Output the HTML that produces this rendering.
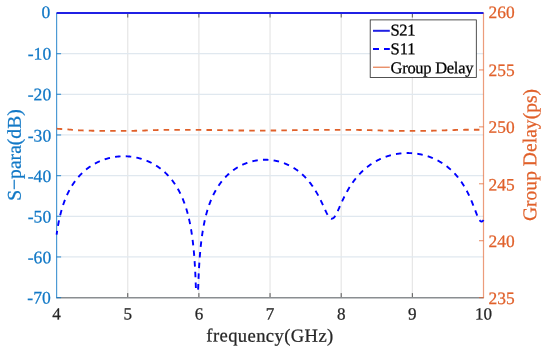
<!DOCTYPE html>
<html><head><meta charset="utf-8"><style>
html,body{margin:0;padding:0;background:#fff;}
body{width:550px;height:355px;overflow:hidden;}
svg{display:block;font-family:"Liberation Serif","Times New Roman",serif;text-rendering:geometricPrecision;}
text{stroke-width:0.25px;}
</style></head><body>
<svg width="550" height="355" viewBox="0 0 550 355">
<rect width="550" height="355" fill="#fff"/>
<g stroke="#E6E6E6" stroke-width="1.2"><line x1="127.75" y1="13.0" x2="127.75" y2="297.6"/><line x1="198.90" y1="13.0" x2="198.90" y2="297.6"/><line x1="270.05" y1="13.0" x2="270.05" y2="297.6"/><line x1="341.20" y1="13.0" x2="341.20" y2="297.6"/><line x1="412.35" y1="13.0" x2="412.35" y2="297.6"/></g>
<g stroke="#E0E8EF" stroke-width="1.2"><line x1="56.6" y1="53.66" x2="483.5" y2="53.66"/><line x1="56.6" y1="94.31" x2="483.5" y2="94.31"/><line x1="56.6" y1="134.97" x2="483.5" y2="134.97"/><line x1="56.6" y1="175.63" x2="483.5" y2="175.63"/><line x1="56.6" y1="216.29" x2="483.5" y2="216.29"/><line x1="56.6" y1="256.94" x2="483.5" y2="256.94"/></g>
<g stroke="#555" stroke-width="1"><line x1="127.75" y1="297.6" x2="127.75" y2="293.1"/><line x1="127.75" y1="13.0" x2="127.75" y2="17.5"/><line x1="198.90" y1="297.6" x2="198.90" y2="293.1"/><line x1="198.90" y1="13.0" x2="198.90" y2="17.5"/><line x1="270.05" y1="297.6" x2="270.05" y2="293.1"/><line x1="270.05" y1="13.0" x2="270.05" y2="17.5"/><line x1="341.20" y1="297.6" x2="341.20" y2="293.1"/><line x1="341.20" y1="13.0" x2="341.20" y2="17.5"/><line x1="412.35" y1="297.6" x2="412.35" y2="293.1"/><line x1="412.35" y1="13.0" x2="412.35" y2="17.5"/></g>
<line x1="56.6" y1="297.8" x2="483.5" y2="297.8" stroke="#8a8e91" stroke-width="1.6"/>
<g stroke="#1178C6" stroke-width="1.2" stroke-opacity="0.75"><line x1="56.6" y1="13.00" x2="61.1" y2="13.00"/><line x1="56.6" y1="53.66" x2="61.1" y2="53.66"/><line x1="56.6" y1="94.31" x2="61.1" y2="94.31"/><line x1="56.6" y1="134.97" x2="61.1" y2="134.97"/><line x1="56.6" y1="175.63" x2="61.1" y2="175.63"/><line x1="56.6" y1="216.29" x2="61.1" y2="216.29"/><line x1="56.6" y1="256.94" x2="61.1" y2="256.94"/><line x1="56.6" y1="297.60" x2="61.1" y2="297.60"/><line x1="56.6" y1="13.0" x2="56.6" y2="298.20000000000005"/></g>
<g stroke="#E0602A" stroke-width="1.2" stroke-opacity="0.62"><line x1="483.5" y1="297.60" x2="479.0" y2="297.60"/><line x1="483.5" y1="240.68" x2="479.0" y2="240.68"/><line x1="483.5" y1="183.76" x2="479.0" y2="183.76"/><line x1="483.5" y1="126.84" x2="479.0" y2="126.84"/><line x1="483.5" y1="69.92" x2="479.0" y2="69.92"/><line x1="483.5" y1="13.00" x2="479.0" y2="13.00"/><line x1="483.5" y1="13.0" x2="483.5" y2="298.20000000000005"/></g>
<path d="M56.60,128.70 L58.03,128.79 L59.46,128.89 L60.88,128.98 L62.31,129.07 L63.74,129.17 L65.17,129.27 L66.59,129.36 L68.02,129.46 L69.45,129.56 L70.88,129.66 L72.31,129.78 L73.73,129.89 L75.16,130.01 L76.59,130.12 L78.02,130.23 L79.44,130.32 L80.87,130.39 L82.30,130.45 L83.73,130.50 L85.16,130.55 L86.58,130.59 L88.01,130.62 L89.44,130.66 L90.87,130.70 L92.29,130.73 L93.72,130.77 L95.15,130.81 L96.58,130.85 L98.01,130.88 L99.43,130.90 L100.86,130.90 L102.29,130.91 L103.72,130.92 L105.14,130.93 L106.57,130.93 L108.00,130.94 L109.43,130.94 L110.85,130.94 L112.28,130.95 L113.71,130.95 L115.14,130.95 L116.57,130.95 L117.99,130.95 L119.42,130.94 L120.85,130.93 L122.28,130.92 L123.70,130.91 L125.13,130.90 L126.56,130.88 L127.99,130.86 L129.42,130.85 L130.84,130.83 L132.27,130.81 L133.70,130.79 L135.13,130.77 L136.55,130.74 L137.98,130.70 L139.41,130.67 L140.84,130.63 L142.27,130.58 L143.69,130.54 L145.12,130.50 L146.55,130.44 L147.98,130.38 L149.40,130.31 L150.83,130.24 L152.26,130.17 L153.69,130.11 L155.12,130.07 L156.54,130.04 L157.97,130.02 L159.40,130.01 L160.83,129.99 L162.25,129.98 L163.68,129.97 L165.11,129.96 L166.54,129.95 L167.97,129.94 L169.39,129.93 L170.82,129.92 L172.25,129.91 L173.68,129.90 L175.10,129.89 L176.53,129.88 L177.96,129.87 L179.39,129.86 L180.82,129.86 L182.24,129.85 L183.67,129.85 L185.10,129.85 L186.53,129.85 L187.95,129.85 L189.38,129.86 L190.81,129.86 L192.24,129.86 L193.66,129.87 L195.09,129.88 L196.52,129.88 L197.95,129.89 L199.38,129.90 L200.80,129.91 L202.23,129.92 L203.66,129.94 L205.09,129.96 L206.51,129.98 L207.94,129.99 L209.37,130.00 L210.80,130.01 L212.23,130.02 L213.65,130.02 L215.08,130.03 L216.51,130.03 L217.94,130.04 L219.36,130.05 L220.79,130.06 L222.22,130.09 L223.65,130.12 L225.08,130.17 L226.50,130.22 L227.93,130.27 L229.36,130.31 L230.79,130.35 L232.21,130.37 L233.64,130.40 L235.07,130.43 L236.50,130.45 L237.93,130.47 L239.35,130.49 L240.78,130.50 L242.21,130.51 L243.64,130.51 L245.06,130.52 L246.49,130.52 L247.92,130.53 L249.35,130.53 L250.78,130.53 L252.20,130.54 L253.63,130.54 L255.06,130.54 L256.49,130.55 L257.91,130.55 L259.34,130.55 L260.77,130.55 L262.20,130.55 L263.63,130.55 L265.05,130.55 L266.48,130.54 L267.91,130.53 L269.34,130.52 L270.76,130.52 L272.19,130.51 L273.62,130.50 L275.05,130.49 L276.47,130.48 L277.90,130.46 L279.33,130.45 L280.76,130.44 L282.19,130.42 L283.61,130.40 L285.04,130.39 L286.47,130.36 L287.90,130.34 L289.32,130.31 L290.75,130.28 L292.18,130.25 L293.61,130.22 L295.04,130.20 L296.46,130.18 L297.89,130.16 L299.32,130.14 L300.75,130.12 L302.17,130.10 L303.60,130.08 L305.03,130.06 L306.46,130.04 L307.89,130.03 L309.31,130.01 L310.74,130.00 L312.17,129.99 L313.60,129.97 L315.02,129.96 L316.45,129.95 L317.88,129.93 L319.31,129.92 L320.74,129.90 L322.16,129.89 L323.59,129.88 L325.02,129.86 L326.45,129.85 L327.87,129.84 L329.30,129.84 L330.73,129.83 L332.16,129.82 L333.59,129.81 L335.01,129.81 L336.44,129.80 L337.87,129.80 L339.30,129.80 L340.72,129.81 L342.15,129.82 L343.58,129.83 L345.01,129.85 L346.44,129.86 L347.86,129.88 L349.29,129.89 L350.72,129.91 L352.15,129.92 L353.57,129.93 L355.00,129.94 L356.43,129.95 L357.86,129.96 L359.28,129.98 L360.71,130.00 L362.14,130.02 L363.57,130.04 L365.00,130.08 L366.42,130.11 L367.85,130.15 L369.28,130.18 L370.71,130.22 L372.13,130.26 L373.56,130.29 L374.99,130.33 L376.42,130.38 L377.85,130.42 L379.27,130.46 L380.70,130.49 L382.13,130.53 L383.56,130.56 L384.98,130.60 L386.41,130.63 L387.84,130.67 L389.27,130.70 L390.70,130.73 L392.12,130.75 L393.55,130.78 L394.98,130.80 L396.41,130.82 L397.83,130.84 L399.26,130.86 L400.69,130.88 L402.12,130.89 L403.55,130.90 L404.97,130.91 L406.40,130.92 L407.83,130.93 L409.26,130.94 L410.68,130.95 L412.11,130.95 L413.54,130.95 L414.97,130.95 L416.40,130.94 L417.82,130.94 L419.25,130.93 L420.68,130.92 L422.11,130.91 L423.53,130.90 L424.96,130.89 L426.39,130.87 L427.82,130.85 L429.25,130.82 L430.67,130.78 L432.10,130.75 L433.53,130.71 L434.96,130.67 L436.38,130.63 L437.81,130.58 L439.24,130.52 L440.67,130.46 L442.09,130.41 L443.52,130.35 L444.95,130.30 L446.38,130.25 L447.81,130.21 L449.23,130.16 L450.66,130.12 L452.09,130.08 L453.52,130.04 L454.94,130.00 L456.37,129.96 L457.80,129.92 L459.23,129.88 L460.66,129.85 L462.08,129.81 L463.51,129.78 L464.94,129.76 L466.37,129.75 L467.79,129.75 L469.22,129.75 L470.65,129.75 L472.08,129.75 L473.51,129.75 L474.93,129.75 L476.36,129.75 L477.79,129.75 L479.22,129.76 L480.64,129.77 L482.07,129.78 L483.50,129.80" fill="none" stroke="#E0602A" stroke-width="1.8" stroke-dasharray="5.5 5.2" stroke-dashoffset="-0.15"/>
<path d="M56.60,234.54 L56.88,232.55 L57.17,230.66 L57.45,228.87 L57.74,227.17 L58.02,225.55 L58.31,224.01 L58.59,222.53 L58.88,221.11 L59.16,219.75 L59.45,218.44 L59.73,217.18 L60.02,215.97 L60.30,214.79 L60.59,213.66 L60.87,212.57 L61.16,211.51 L61.44,210.48 L61.73,209.48 L62.01,208.51 L62.30,207.57 L62.58,206.66 L62.87,205.77 L63.15,204.91 L63.43,204.06 L63.72,203.24 L64.00,202.44 L64.29,201.66 L64.57,200.89 L64.86,200.15 L65.14,199.42 L65.43,198.71 L65.71,198.01 L66.00,197.33 L66.28,196.66 L66.57,196.01 L66.85,195.37 L67.14,194.75 L67.42,194.13 L67.71,193.53 L67.99,192.94 L68.28,192.36 L68.56,191.79 L68.85,191.24 L69.13,190.69 L69.42,190.15 L69.70,189.62 L69.99,189.11 L70.27,188.60 L70.55,188.10 L70.84,187.60 L71.12,187.12 L71.41,186.64 L71.69,186.18 L71.98,185.72 L72.26,185.26 L72.55,184.82 L72.83,184.38 L73.12,183.95 L73.40,183.52 L73.69,183.10 L73.97,182.69 L74.26,182.28 L74.54,181.88 L74.83,181.49 L75.11,181.10 L75.40,180.72 L75.68,180.34 L75.97,179.97 L76.25,179.60 L76.54,179.24 L76.82,178.89 L77.10,178.53 L77.39,178.19 L77.67,177.85 L77.96,177.51 L78.24,177.18 L78.53,176.85 L78.81,176.53 L79.10,176.21 L79.38,175.89 L79.67,175.58 L79.95,175.28 L80.24,174.97 L80.52,174.68 L80.81,174.38 L81.09,174.09 L81.38,173.80 L81.66,173.52 L81.95,173.24 L82.23,172.96 L82.52,172.69 L82.80,172.42 L83.09,172.16 L83.37,171.90 L83.66,171.64 L83.94,171.38 L84.22,171.13 L84.51,170.88 L84.79,170.63 L85.08,170.39 L85.36,170.15 L85.65,169.91 L85.93,169.68 L86.22,169.45 L86.50,169.22 L86.79,168.99 L87.07,168.77 L87.36,168.55 L87.64,168.33 L87.93,168.12 L88.21,167.91 L88.50,167.70 L88.78,167.49 L89.07,167.29 L89.35,167.09 L89.64,166.89 L89.92,166.69 L90.21,166.50 L90.49,166.30 L90.77,166.12 L91.06,165.93 L91.34,165.74 L91.63,165.56 L91.91,165.38 L92.20,165.20 L92.48,165.03 L92.77,164.86 L93.05,164.68 L93.34,164.51 L93.62,164.35 L93.91,164.18 L94.19,164.02 L94.48,163.86 L94.76,163.70 L95.05,163.55 L95.33,163.39 L95.62,163.24 L95.90,163.09 L96.19,162.94 L96.47,162.79 L96.76,162.65 L97.04,162.51 L97.32,162.37 L97.61,162.23 L97.89,162.09 L98.18,161.96 L98.46,161.82 L98.75,161.69 L99.03,161.56 L99.32,161.44 L99.60,161.31 L99.89,161.19 L100.17,161.06 L100.46,160.94 L100.74,160.82 L101.03,160.71 L101.31,160.59 L101.60,160.48 L101.88,160.37 L102.17,160.26 L102.45,160.15 L102.74,160.04 L103.02,159.94 L103.31,159.83 L103.59,159.73 L103.88,159.63 L104.16,159.53 L104.44,159.43 L104.73,159.34 L105.01,159.25 L105.30,159.15 L105.58,159.06 L105.87,158.97 L106.15,158.89 L106.44,158.80 L106.72,158.72 L107.01,158.63 L107.29,158.55 L107.58,158.47 L107.86,158.39 L108.15,158.32 L108.43,158.24 L108.72,158.17 L109.00,158.09 L109.29,158.02 L109.57,157.95 L109.86,157.89 L110.14,157.82 L110.43,157.75 L110.71,157.69 L110.99,157.63 L111.28,157.57 L111.56,157.51 L111.85,157.45 L112.13,157.39 L112.42,157.34 L112.70,157.29 L112.99,157.23 L113.27,157.18 L113.56,157.13 L113.84,157.08 L114.13,157.04 L114.41,156.99 L114.70,156.95 L114.98,156.91 L115.27,156.87 L115.55,156.83 L115.84,156.79 L116.12,156.75 L116.41,156.71 L116.69,156.68 L116.98,156.65 L117.26,156.62 L117.55,156.59 L117.83,156.56 L118.11,156.53 L118.40,156.50 L118.68,156.48 L118.97,156.46 L119.25,156.43 L119.54,156.41 L119.82,156.39 L120.11,156.38 L120.39,156.36 L120.68,156.34 L120.96,156.33 L121.25,156.32 L121.53,156.31 L121.82,156.30 L122.10,156.29 L122.39,156.28 L122.67,156.27 L122.96,156.27 L123.24,156.27 L123.53,156.26 L123.81,156.26 L124.10,156.26 L124.38,156.27 L124.66,156.27 L124.95,156.27 L125.23,156.28 L125.52,156.29 L125.80,156.30 L126.09,156.31 L126.37,156.32 L126.66,156.33 L126.94,156.34 L127.23,156.36 L127.51,156.38 L127.80,156.39 L128.08,156.41 L128.37,156.43 L128.65,156.45 L128.94,156.48 L129.22,156.50 L129.51,156.53 L129.79,156.56 L130.08,156.59 L130.36,156.62 L130.65,156.65 L130.93,156.68 L131.21,156.71 L131.50,156.75 L131.78,156.79 L132.07,156.82 L132.35,156.86 L132.64,156.90 L132.92,156.95 L133.21,156.99 L133.49,157.04 L133.78,157.08 L134.06,157.13 L134.35,157.18 L134.63,157.23 L134.92,157.28 L135.20,157.34 L135.49,157.39 L135.77,157.45 L136.06,157.51 L136.34,157.56 L136.63,157.62 L136.91,157.69 L137.20,157.75 L137.48,157.82 L137.77,157.88 L138.05,157.95 L138.33,158.02 L138.62,158.09 L138.90,158.16 L139.19,158.24 L139.47,158.31 L139.76,158.39 L140.04,158.47 L140.33,158.55 L140.61,158.63 L140.90,158.71 L141.18,158.79 L141.47,158.88 L141.75,158.97 L142.04,159.06 L142.32,159.15 L142.61,159.24 L142.89,159.33 L143.18,159.43 L143.46,159.52 L143.75,159.62 L144.03,159.72 L144.32,159.82 L144.60,159.93 L144.88,160.03 L145.17,160.14 L145.45,160.25 L145.74,160.36 L146.02,160.47 L146.31,160.58 L146.59,160.70 L146.88,160.81 L147.16,160.93 L147.45,161.05 L147.73,161.17 L148.02,161.30 L148.30,161.42 L148.59,161.55 L148.87,161.68 L149.16,161.81 L149.44,161.94 L149.73,162.07 L150.01,162.21 L150.30,162.35 L150.58,162.49 L150.87,162.63 L151.15,162.77 L151.44,162.92 L151.72,163.07 L152.00,163.21 L152.29,163.37 L152.57,163.52 L152.86,163.67 L153.14,163.83 L153.43,163.99 L153.71,164.15 L154.00,164.32 L154.28,164.48 L154.57,164.65 L154.85,164.82 L155.14,164.99 L155.42,165.17 L155.71,165.34 L155.99,165.52 L156.28,165.70 L156.56,165.88 L156.85,166.07 L157.13,166.26 L157.42,166.45 L157.70,166.64 L157.99,166.83 L158.27,167.03 L158.55,167.23 L158.84,167.43 L159.12,167.64 L159.41,167.84 L159.69,168.05 L159.98,168.27 L160.26,168.48 L160.55,168.70 L160.83,168.92 L161.12,169.14 L161.40,169.37 L161.69,169.59 L161.97,169.83 L162.26,170.06 L162.54,170.30 L162.83,170.54 L163.11,170.78 L163.40,171.02 L163.68,171.27 L163.97,171.52 L164.25,171.78 L164.54,172.04 L164.82,172.30 L165.10,172.56 L165.39,172.83 L165.67,173.10 L165.96,173.38 L166.24,173.66 L166.53,173.94 L166.81,174.22 L167.10,174.51 L167.38,174.80 L167.67,175.10 L167.95,175.40 L168.24,175.70 L168.52,176.01 L168.81,176.32 L169.09,176.64 L169.38,176.96 L169.66,177.29 L169.95,177.61 L170.23,177.95 L170.52,178.28 L170.80,178.63 L171.09,178.97 L171.37,179.33 L171.66,179.68 L171.94,180.04 L172.22,180.41 L172.51,180.78 L172.79,181.16 L173.08,181.54 L173.36,181.93 L173.65,182.32 L173.93,182.72 L174.22,183.13 L174.50,183.54 L174.79,183.95 L175.07,184.38 L175.36,184.81 L175.64,185.24 L175.93,185.69 L176.21,186.14 L176.50,186.59 L176.78,187.06 L177.07,187.53 L177.35,188.01 L177.64,188.50 L177.92,188.99 L178.21,189.50 L178.49,190.01 L178.77,190.53 L179.06,191.06 L179.34,191.60 L179.63,192.15 L179.91,192.71 L180.20,193.28 L180.48,193.86 L180.77,194.45 L181.05,195.05 L181.34,195.66 L181.62,196.29 L181.91,196.93 L182.19,197.58 L182.48,198.25 L182.76,198.93 L183.05,199.62 L183.33,200.33 L183.62,201.05 L183.90,201.79 L184.19,202.55 L184.47,203.33 L184.76,204.12 L185.04,204.94 L185.33,205.77 L185.61,206.63 L185.89,207.51 L186.18,208.41 L186.46,209.34 L186.75,210.29 L187.03,211.27 L187.32,212.28 L187.60,213.32 L187.89,214.39 L188.17,215.50 L188.46,216.65 L188.74,217.83 L189.03,219.06 L189.31,220.33 L189.60,221.65 L189.88,223.02 L190.17,224.45 L190.45,225.95 L190.74,227.50 L191.02,229.13 L191.31,230.85 L191.59,232.65 L191.88,234.54 L192.16,236.55 L192.44,238.67 L192.73,240.94 L193.01,243.36 L193.30,245.96 L193.58,248.76 L193.87,251.81 L194.15,255.15 L194.44,258.84 L194.72,262.96 L195.01,267.62 L195.29,272.99 L195.58,279.33 L195.86,287.07 L196.15,290.49 L196.43,290.49 L196.72,290.49 L197.00,290.49 L197.29,290.49 L197.57,290.49 L197.86,290.49 L198.14,288.62 L198.43,280.58 L198.71,274.04 L198.99,268.53 L199.28,263.76 L199.56,259.57 L199.85,255.82 L200.13,252.43 L200.42,249.35 L200.70,246.51 L200.99,243.89 L201.27,241.45 L201.56,239.17 L201.84,237.03 L202.13,235.01 L202.41,233.10 L202.70,231.30 L202.98,229.58 L203.27,227.95 L203.55,226.39 L203.84,224.90 L204.12,223.46 L204.41,222.09 L204.69,220.77 L204.98,219.50 L205.26,218.28 L205.55,217.10 L205.83,215.95 L206.11,214.85 L206.40,213.78 L206.68,212.74 L206.97,211.74 L207.25,210.76 L207.54,209.82 L207.82,208.89 L208.11,208.00 L208.39,207.13 L208.68,206.28 L208.96,205.45 L209.25,204.64 L209.53,203.85 L209.82,203.08 L210.10,202.33 L210.39,201.60 L210.67,200.88 L210.96,200.18 L211.24,199.50 L211.53,198.82 L211.81,198.17 L212.10,197.52 L212.38,196.89 L212.66,196.28 L212.95,195.67 L213.23,195.08 L213.52,194.49 L213.80,193.92 L214.09,193.36 L214.37,192.81 L214.66,192.27 L214.94,191.74 L215.23,191.22 L215.51,190.71 L215.80,190.20 L216.08,189.71 L216.37,189.22 L216.65,188.75 L216.94,188.27 L217.22,187.81 L217.51,187.36 L217.79,186.91 L218.08,186.47 L218.36,186.04 L218.65,185.61 L218.93,185.19 L219.22,184.78 L219.50,184.37 L219.78,183.97 L220.07,183.57 L220.35,183.19 L220.64,182.80 L220.92,182.42 L221.21,182.05 L221.49,181.69 L221.78,181.33 L222.06,180.97 L222.35,180.62 L222.63,180.27 L222.92,179.93 L223.20,179.59 L223.49,179.26 L223.77,178.94 L224.06,178.61 L224.34,178.30 L224.63,177.98 L224.91,177.67 L225.20,177.37 L225.48,177.07 L225.77,176.77 L226.05,176.48 L226.33,176.19 L226.62,175.90 L226.90,175.62 L227.19,175.34 L227.47,175.07 L227.76,174.80 L228.04,174.53 L228.33,174.27 L228.61,174.01 L228.90,173.76 L229.18,173.50 L229.47,173.25 L229.75,173.01 L230.04,172.76 L230.32,172.52 L230.61,172.29 L230.89,172.05 L231.18,171.82 L231.46,171.60 L231.75,171.37 L232.03,171.15 L232.32,170.93 L232.60,170.71 L232.88,170.50 L233.17,170.29 L233.45,170.08 L233.74,169.88 L234.02,169.68 L234.31,169.48 L234.59,169.28 L234.88,169.09 L235.16,168.89 L235.45,168.71 L235.73,168.52 L236.02,168.34 L236.30,168.15 L236.59,167.97 L236.87,167.80 L237.16,167.62 L237.44,167.45 L237.73,167.28 L238.01,167.11 L238.30,166.95 L238.58,166.79 L238.87,166.63 L239.15,166.47 L239.44,166.31 L239.72,166.16 L240.00,166.01 L240.29,165.86 L240.57,165.71 L240.86,165.57 L241.14,165.42 L241.43,165.28 L241.71,165.14 L242.00,165.01 L242.28,164.87 L242.57,164.74 L242.85,164.61 L243.14,164.48 L243.42,164.35 L243.71,164.23 L243.99,164.10 L244.28,163.98 L244.56,163.86 L244.85,163.75 L245.13,163.63 L245.42,163.52 L245.70,163.41 L245.99,163.30 L246.27,163.19 L246.55,163.08 L246.84,162.98 L247.12,162.88 L247.41,162.78 L247.69,162.68 L247.98,162.58 L248.26,162.49 L248.55,162.39 L248.83,162.30 L249.12,162.21 L249.40,162.12 L249.69,162.04 L249.97,161.95 L250.26,161.87 L250.54,161.79 L250.83,161.71 L251.11,161.63 L251.40,161.55 L251.68,161.48 L251.97,161.41 L252.25,161.33 L252.54,161.26 L252.82,161.20 L253.11,161.13 L253.39,161.07 L253.67,161.00 L253.96,160.94 L254.24,160.88 L254.53,160.82 L254.81,160.77 L255.10,160.71 L255.38,160.66 L255.67,160.61 L255.95,160.56 L256.24,160.51 L256.52,160.46 L256.81,160.41 L257.09,160.37 L257.38,160.33 L257.66,160.29 L257.95,160.25 L258.23,160.21 L258.52,160.17 L258.80,160.14 L259.09,160.11 L259.37,160.07 L259.66,160.04 L259.94,160.02 L260.22,159.99 L260.51,159.96 L260.79,159.94 L261.08,159.92 L261.36,159.90 L261.65,159.88 L261.93,159.86 L262.22,159.84 L262.50,159.83 L262.79,159.81 L263.07,159.80 L263.36,159.79 L263.64,159.78 L263.93,159.78 L264.21,159.77 L264.50,159.77 L264.78,159.76 L265.07,159.76 L265.35,159.76 L265.64,159.76 L265.92,159.77 L266.21,159.77 L266.49,159.78 L266.77,159.79 L267.06,159.80 L267.34,159.81 L267.63,159.82 L267.91,159.83 L268.20,159.85 L268.48,159.86 L268.77,159.88 L269.05,159.90 L269.34,159.92 L269.62,159.95 L269.91,159.97 L270.19,160.00 L270.48,160.03 L270.76,160.05 L271.05,160.09 L271.33,160.12 L271.62,160.15 L271.90,160.19 L272.19,160.22 L272.47,160.26 L272.76,160.30 L273.04,160.34 L273.33,160.39 L273.61,160.43 L273.89,160.48 L274.18,160.52 L274.46,160.57 L274.75,160.62 L275.03,160.68 L275.32,160.73 L275.60,160.79 L275.89,160.84 L276.17,160.90 L276.46,160.96 L276.74,161.02 L277.03,161.09 L277.31,161.15 L277.60,161.22 L277.88,161.29 L278.17,161.36 L278.45,161.43 L278.74,161.50 L279.02,161.58 L279.31,161.65 L279.59,161.73 L279.88,161.81 L280.16,161.89 L280.44,161.98 L280.73,162.06 L281.01,162.15 L281.30,162.24 L281.58,162.33 L281.87,162.42 L282.15,162.51 L282.44,162.61 L282.72,162.71 L283.01,162.81 L283.29,162.91 L283.58,163.01 L283.86,163.11 L284.15,163.22 L284.43,163.33 L284.72,163.44 L285.00,163.55 L285.29,163.66 L285.57,163.78 L285.86,163.90 L286.14,164.02 L286.43,164.14 L286.71,164.26 L286.99,164.38 L287.28,164.51 L287.56,164.64 L287.85,164.77 L288.13,164.90 L288.42,165.04 L288.70,165.18 L288.99,165.31 L289.27,165.46 L289.56,165.60 L289.84,165.74 L290.13,165.89 L290.41,166.04 L290.70,166.19 L290.98,166.34 L291.27,166.50 L291.55,166.66 L291.84,166.82 L292.12,166.98 L292.41,167.14 L292.69,167.31 L292.98,167.48 L293.26,167.65 L293.55,167.82 L293.83,168.00 L294.11,168.18 L294.40,168.36 L294.68,168.54 L294.97,168.73 L295.25,168.91 L295.54,169.10 L295.82,169.30 L296.11,169.49 L296.39,169.69 L296.68,169.89 L296.96,170.09 L297.25,170.30 L297.53,170.51 L297.82,170.72 L298.10,170.93 L298.39,171.15 L298.67,171.37 L298.96,171.59 L299.24,171.81 L299.53,172.04 L299.81,172.27 L300.10,172.50 L300.38,172.74 L300.66,172.98 L300.95,173.22 L301.23,173.47 L301.52,173.72 L301.80,173.97 L302.09,174.22 L302.37,174.48 L302.66,174.74 L302.94,175.01 L303.23,175.27 L303.51,175.54 L303.80,175.82 L304.08,176.10 L304.37,176.38 L304.65,176.66 L304.94,176.95 L305.22,177.25 L305.51,177.54 L305.79,177.84 L306.08,178.15 L306.36,178.45 L306.65,178.76 L306.93,179.08 L307.22,179.40 L307.50,179.72 L307.78,180.05 L308.07,180.38 L308.35,180.72 L308.64,181.06 L308.92,181.40 L309.21,181.75 L309.49,182.11 L309.78,182.46 L310.06,182.83 L310.35,183.20 L310.63,183.57 L310.92,183.95 L311.20,184.33 L311.49,184.71 L311.77,185.11 L312.06,185.50 L312.34,185.91 L312.63,186.32 L312.91,186.73 L313.20,187.15 L313.48,187.57 L313.77,188.00 L314.05,188.44 L314.33,188.88 L314.62,189.32 L314.90,189.78 L315.19,190.24 L315.47,190.70 L315.76,191.17 L316.04,191.65 L316.33,192.13 L316.61,192.62 L316.90,193.12 L317.18,193.62 L317.47,194.12 L317.75,194.64 L318.04,195.16 L318.32,195.69 L318.61,196.22 L318.89,196.76 L319.18,197.31 L319.46,197.86 L319.75,198.42 L320.03,198.98 L320.32,199.55 L320.60,200.13 L320.88,200.71 L321.17,201.30 L321.45,201.90 L321.74,202.49 L322.02,203.10 L322.31,203.70 L322.59,204.32 L322.88,204.93 L323.16,205.55 L323.45,206.17 L323.73,206.79 L324.02,207.41 L324.30,208.03 L324.59,208.65 L324.87,209.27 L325.16,209.89 L325.44,210.50 L325.73,211.10 L326.01,211.70 L326.30,212.28 L326.58,212.86 L326.87,213.42 L327.15,213.97 L327.44,214.50 L327.72,215.01 L328.00,215.49 L328.29,215.96 L328.57,216.39 L328.86,216.80 L329.14,217.17 L329.43,217.51 L329.71,217.81 L330.00,218.07 L330.28,218.29 L330.57,218.47 L330.85,218.60 L331.14,218.69 L331.42,218.73 L331.71,218.73 L331.99,218.67 L332.28,218.58 L332.56,218.46 L332.85,218.35 L333.13,218.20 L333.42,218.00 L333.70,217.76 L333.99,217.48 L334.27,217.16 L334.55,216.80 L334.84,216.41 L335.12,215.99 L335.41,215.53 L335.69,215.05 L335.98,214.55 L336.26,214.02 L336.55,213.48 L336.83,212.91 L337.12,212.33 L337.40,211.74 L337.69,211.14 L337.97,210.53 L338.26,209.91 L338.54,209.28 L338.83,208.65 L339.11,208.01 L339.40,207.37 L339.68,206.73 L339.97,206.09 L340.25,205.46 L340.54,204.82 L340.82,204.18 L341.11,203.55 L341.39,202.92 L341.67,202.30 L341.96,201.68 L342.24,201.06 L342.53,200.45 L342.81,199.84 L343.10,199.24 L343.38,198.65 L343.67,198.06 L343.95,197.47 L344.24,196.89 L344.52,196.32 L344.81,195.76 L345.09,195.20 L345.38,194.65 L345.66,194.10 L345.95,193.56 L346.23,193.02 L346.52,192.50 L346.80,191.98 L347.09,191.46 L347.37,190.95 L347.66,190.45 L347.94,189.95 L348.22,189.46 L348.51,188.98 L348.79,188.50 L349.08,188.03 L349.36,187.56 L349.65,187.10 L349.93,186.64 L350.22,186.19 L350.50,185.75 L350.79,185.31 L351.07,184.87 L351.36,184.44 L351.64,184.02 L351.93,183.60 L352.21,183.19 L352.50,182.78 L352.78,182.38 L353.07,181.98 L353.35,181.59 L353.64,181.20 L353.92,180.81 L354.21,180.43 L354.49,180.06 L354.77,179.69 L355.06,179.32 L355.34,178.96 L355.63,178.60 L355.91,178.25 L356.20,177.90 L356.48,177.55 L356.77,177.21 L357.05,176.87 L357.34,176.54 L357.62,176.21 L357.91,175.88 L358.19,175.56 L358.48,175.24 L358.76,174.93 L359.05,174.62 L359.33,174.31 L359.62,174.01 L359.90,173.70 L360.19,173.41 L360.47,173.11 L360.76,172.82 L361.04,172.54 L361.33,172.25 L361.61,171.97 L361.89,171.69 L362.18,171.42 L362.46,171.15 L362.75,170.88 L363.03,170.61 L363.32,170.35 L363.60,170.09 L363.89,169.83 L364.17,169.58 L364.46,169.33 L364.74,169.08 L365.03,168.83 L365.31,168.59 L365.60,168.35 L365.88,168.11 L366.17,167.88 L366.45,167.65 L366.74,167.42 L367.02,167.19 L367.31,166.96 L367.59,166.74 L367.88,166.52 L368.16,166.31 L368.44,166.09 L368.73,165.88 L369.01,165.67 L369.30,165.46 L369.58,165.25 L369.87,165.05 L370.15,164.85 L370.44,164.65 L370.72,164.45 L371.01,164.26 L371.29,164.07 L371.58,163.88 L371.86,163.69 L372.15,163.50 L372.43,163.32 L372.72,163.14 L373.00,162.96 L373.29,162.78 L373.57,162.61 L373.86,162.43 L374.14,162.26 L374.43,162.09 L374.71,161.93 L375.00,161.76 L375.28,161.60 L375.56,161.43 L375.85,161.27 L376.13,161.12 L376.42,160.96 L376.70,160.81 L376.99,160.65 L377.27,160.50 L377.56,160.35 L377.84,160.21 L378.13,160.06 L378.41,159.92 L378.70,159.78 L378.98,159.64 L379.27,159.50 L379.55,159.36 L379.84,159.23 L380.12,159.10 L380.41,158.96 L380.69,158.83 L380.98,158.71 L381.26,158.58 L381.55,158.46 L381.83,158.33 L382.11,158.21 L382.40,158.09 L382.68,157.97 L382.97,157.86 L383.25,157.74 L383.54,157.63 L383.82,157.51 L384.11,157.40 L384.39,157.30 L384.68,157.19 L384.96,157.08 L385.25,156.98 L385.53,156.87 L385.82,156.77 L386.10,156.67 L386.39,156.58 L386.67,156.48 L386.96,156.38 L387.24,156.29 L387.53,156.20 L387.81,156.11 L388.10,156.02 L388.38,155.93 L388.66,155.84 L388.95,155.76 L389.23,155.67 L389.52,155.59 L389.80,155.51 L390.09,155.43 L390.37,155.35 L390.66,155.27 L390.94,155.20 L391.23,155.12 L391.51,155.05 L391.80,154.98 L392.08,154.91 L392.37,154.84 L392.65,154.77 L392.94,154.71 L393.22,154.64 L393.51,154.58 L393.79,154.52 L394.08,154.46 L394.36,154.40 L394.65,154.34 L394.93,154.28 L395.22,154.23 L395.50,154.18 L395.78,154.12 L396.07,154.07 L396.35,154.02 L396.64,153.97 L396.92,153.93 L397.21,153.88 L397.49,153.83 L397.78,153.79 L398.06,153.75 L398.35,153.71 L398.63,153.67 L398.92,153.63 L399.20,153.59 L399.49,153.56 L399.77,153.52 L400.06,153.49 L400.34,153.46 L400.63,153.42 L400.91,153.39 L401.20,153.37 L401.48,153.34 L401.77,153.31 L402.05,153.29 L402.33,153.27 L402.62,153.24 L402.90,153.22 L403.19,153.20 L403.47,153.18 L403.76,153.17 L404.04,153.15 L404.33,153.14 L404.61,153.12 L404.90,153.11 L405.18,153.10 L405.47,153.09 L405.75,153.08 L406.04,153.07 L406.32,153.07 L406.61,153.06 L406.89,153.06 L407.18,153.06 L407.46,153.06 L407.75,153.06 L408.03,153.06 L408.32,153.06 L408.60,153.07 L408.89,153.07 L409.17,153.08 L409.45,153.08 L409.74,153.09 L410.02,153.10 L410.31,153.11 L410.59,153.13 L410.88,153.14 L411.16,153.16 L411.45,153.17 L411.73,153.19 L412.02,153.21 L412.30,153.23 L412.59,153.25 L412.87,153.27 L413.16,153.30 L413.44,153.32 L413.73,153.35 L414.01,153.38 L414.30,153.40 L414.58,153.43 L414.87,153.47 L415.15,153.50 L415.44,153.53 L415.72,153.57 L416.00,153.60 L416.29,153.64 L416.57,153.68 L416.86,153.72 L417.14,153.76 L417.43,153.80 L417.71,153.85 L418.00,153.89 L418.28,153.94 L418.57,153.99 L418.85,154.04 L419.14,154.09 L419.42,154.14 L419.71,154.19 L419.99,154.25 L420.28,154.30 L420.56,154.36 L420.85,154.42 L421.13,154.48 L421.42,154.54 L421.70,154.60 L421.99,154.67 L422.27,154.73 L422.55,154.80 L422.84,154.87 L423.12,154.94 L423.41,155.01 L423.69,155.08 L423.98,155.15 L424.26,155.23 L424.55,155.30 L424.83,155.38 L425.12,155.46 L425.40,155.54 L425.69,155.62 L425.97,155.71 L426.26,155.79 L426.54,155.88 L426.83,155.97 L427.11,156.05 L427.40,156.14 L427.68,156.24 L427.97,156.33 L428.25,156.43 L428.54,156.52 L428.82,156.62 L429.11,156.72 L429.39,156.82 L429.67,156.92 L429.96,157.03 L430.24,157.13 L430.53,157.24 L430.81,157.35 L431.10,157.46 L431.38,157.57 L431.67,157.68 L431.95,157.80 L432.24,157.92 L432.52,158.03 L432.81,158.15 L433.09,158.28 L433.38,158.40 L433.66,158.52 L433.95,158.65 L434.23,158.78 L434.52,158.91 L434.80,159.04 L435.09,159.17 L435.37,159.31 L435.66,159.45 L435.94,159.59 L436.22,159.73 L436.51,159.87 L436.79,160.01 L437.08,160.16 L437.36,160.31 L437.65,160.46 L437.93,160.61 L438.22,160.76 L438.50,160.92 L438.79,161.07 L439.07,161.23 L439.36,161.39 L439.64,161.56 L439.93,161.72 L440.21,161.89 L440.50,162.06 L440.78,162.23 L441.07,162.40 L441.35,162.58 L441.64,162.75 L441.92,162.93 L442.21,163.11 L442.49,163.30 L442.78,163.48 L443.06,163.67 L443.34,163.86 L443.63,164.05 L443.91,164.25 L444.20,164.44 L444.48,164.64 L444.77,164.85 L445.05,165.05 L445.34,165.26 L445.62,165.46 L445.91,165.68 L446.19,165.89 L446.48,166.11 L446.76,166.33 L447.05,166.55 L447.33,166.77 L447.62,167.00 L447.90,167.23 L448.19,167.46 L448.47,167.69 L448.76,167.93 L449.04,168.17 L449.33,168.41 L449.61,168.66 L449.89,168.91 L450.18,169.16 L450.46,169.41 L450.75,169.67 L451.03,169.93 L451.32,170.20 L451.60,170.46 L451.89,170.73 L452.17,171.01 L452.46,171.28 L452.74,171.56 L453.03,171.85 L453.31,172.13 L453.60,172.42 L453.88,172.72 L454.17,173.02 L454.45,173.32 L454.74,173.62 L455.02,173.93 L455.31,174.24 L455.59,174.56 L455.88,174.88 L456.16,175.20 L456.44,175.53 L456.73,175.86 L457.01,176.20 L457.30,176.54 L457.58,176.88 L457.87,177.23 L458.15,177.59 L458.44,177.95 L458.72,178.31 L459.01,178.68 L459.29,179.05 L459.58,179.43 L459.86,179.81 L460.15,180.20 L460.43,180.59 L460.72,180.99 L461.00,181.39 L461.29,181.80 L461.57,182.21 L461.86,182.63 L462.14,183.06 L462.43,183.49 L462.71,183.92 L463.00,184.37 L463.28,184.82 L463.56,185.27 L463.85,185.73 L464.13,186.20 L464.42,186.68 L464.70,187.16 L464.99,187.65 L465.27,188.14 L465.56,188.65 L465.84,189.15 L466.13,189.67 L466.41,190.20 L466.70,190.73 L466.98,191.27 L467.27,191.82 L467.55,192.37 L467.84,192.94 L468.12,193.51 L468.41,194.09 L468.69,194.68 L468.98,195.27 L469.26,195.88 L469.55,196.49 L469.83,197.12 L470.11,197.75 L470.40,198.39 L470.68,199.04 L470.97,199.70 L471.25,200.36 L471.54,201.04 L471.82,201.72 L472.11,202.41 L472.39,203.11 L472.68,203.82 L472.96,204.53 L473.25,205.25 L473.53,205.98 L473.82,206.71 L474.10,207.45 L474.39,208.19 L474.67,208.94 L474.96,209.68 L475.24,210.43 L475.53,211.18 L475.81,211.92 L476.10,212.66 L476.38,213.39 L476.67,214.11 L476.95,214.82 L477.23,215.51 L477.52,216.19 L477.80,216.84 L478.09,217.47 L478.37,218.07 L478.66,218.64 L478.94,219.16 L479.23,219.65 L479.51,220.09 L479.80,220.48 L480.08,220.81 L480.37,221.09 L480.65,221.31 L480.94,221.46 L481.22,221.55 L481.51,221.57 L481.79,221.53 L482.08,221.42 L482.36,221.24 L482.65,221.00 L482.93,220.70 L483.22,220.34 L483.50,219.93" fill="none" stroke="#0000FF" stroke-width="1.9" stroke-dasharray="5.5 5.2" stroke-dashoffset="1.86"/>
<line x1="56.6" y1="12.9" x2="483.5" y2="12.9" stroke="#2020E4" stroke-width="2"/>
<g font-size="17.6" fill="#1178C6" stroke="#1178C6" text-anchor="end">
<text transform="translate(50.20,18.04) rotate(0.05)">0</text><text transform="translate(51.20,59.48) rotate(0.05)">-10</text><text transform="translate(51.20,100.26) rotate(0.05)">-20</text><text transform="translate(51.20,141.46) rotate(0.05)">-30</text><text transform="translate(51.20,181.91) rotate(0.05)">-40</text><text transform="translate(51.20,222.57) rotate(0.05)">-50</text><text transform="translate(51.20,263.27) rotate(0.05)">-60</text><text transform="translate(50.80,303.59) rotate(0.05)">-70</text></g>
<g font-size="17.4" fill="#E0602A" stroke="#E0602A" text-anchor="start">
<text transform="translate(488.60,303.94) rotate(0.05)">235</text><text transform="translate(488.60,246.88) rotate(0.05)">240</text><text transform="translate(488.60,190.41) rotate(0.05)">245</text><text transform="translate(488.60,132.86) rotate(0.05)">250</text><text transform="translate(488.60,76.02) rotate(0.05)">255</text><text transform="translate(488.60,17.98) rotate(0.05)">260</text></g>
<g font-size="17.1" fill="#262626" stroke="#262626" text-anchor="middle">
<text transform="translate(56.60,319.43) rotate(0.05)">4</text><text transform="translate(127.75,319.43) rotate(0.05)">5</text><text transform="translate(198.90,319.43) rotate(0.05)">6</text><text transform="translate(270.05,319.43) rotate(0.05)">7</text><text transform="translate(341.20,319.43) rotate(0.05)">8</text><text transform="translate(412.35,319.43) rotate(0.05)">9</text><text transform="translate(483.50,319.43) rotate(0.05)">10</text></g>
<text transform="translate(206.3,341.6) rotate(0.05)" font-size="18.6" fill="#262626" stroke="#262626" textLength="127.0" lengthAdjust="spacing">frequency(GHz)</text>
<text transform="translate(20.7,200.8) rotate(-89.95)" font-size="19.5" fill="#1178C6" stroke="#1178C6" textLength="91.5" lengthAdjust="spacing">S&#8722;para(dB)</text>
<text transform="translate(536.3,221.1) rotate(-89.95)" font-size="19.5" fill="#E0602A" stroke="#E0602A" textLength="132.2" lengthAdjust="spacing">Group Delay(ps)</text>
<rect x="370.2" y="19.9" width="106.1" height="57.5" fill="#fff" stroke="#262626" stroke-width="0.8"/>
<line x1="373" y1="30.8" x2="389.8" y2="30.8" stroke="#2020E4" stroke-width="2"/>
<line x1="373" y1="49" x2="389.8" y2="49" stroke="#0000FF" stroke-width="1.9" stroke-dasharray="6 5"/>
<line x1="373" y1="67.2" x2="389.8" y2="67.2" stroke="#E0602A" stroke-width="1"/>
<g font-size="16.5" fill="#000" stroke="#000">
<text transform="translate(390.5,35.6) rotate(0.05)" textLength="25" lengthAdjust="spacing">S21</text>
<text transform="translate(390.5,54.2) rotate(0.05)" textLength="25" lengthAdjust="spacing">S11</text>
<text transform="translate(390.5,73.2) rotate(0.05)" textLength="83" lengthAdjust="spacing">Group Delay</text>
</g>
</svg>
</body></html>
